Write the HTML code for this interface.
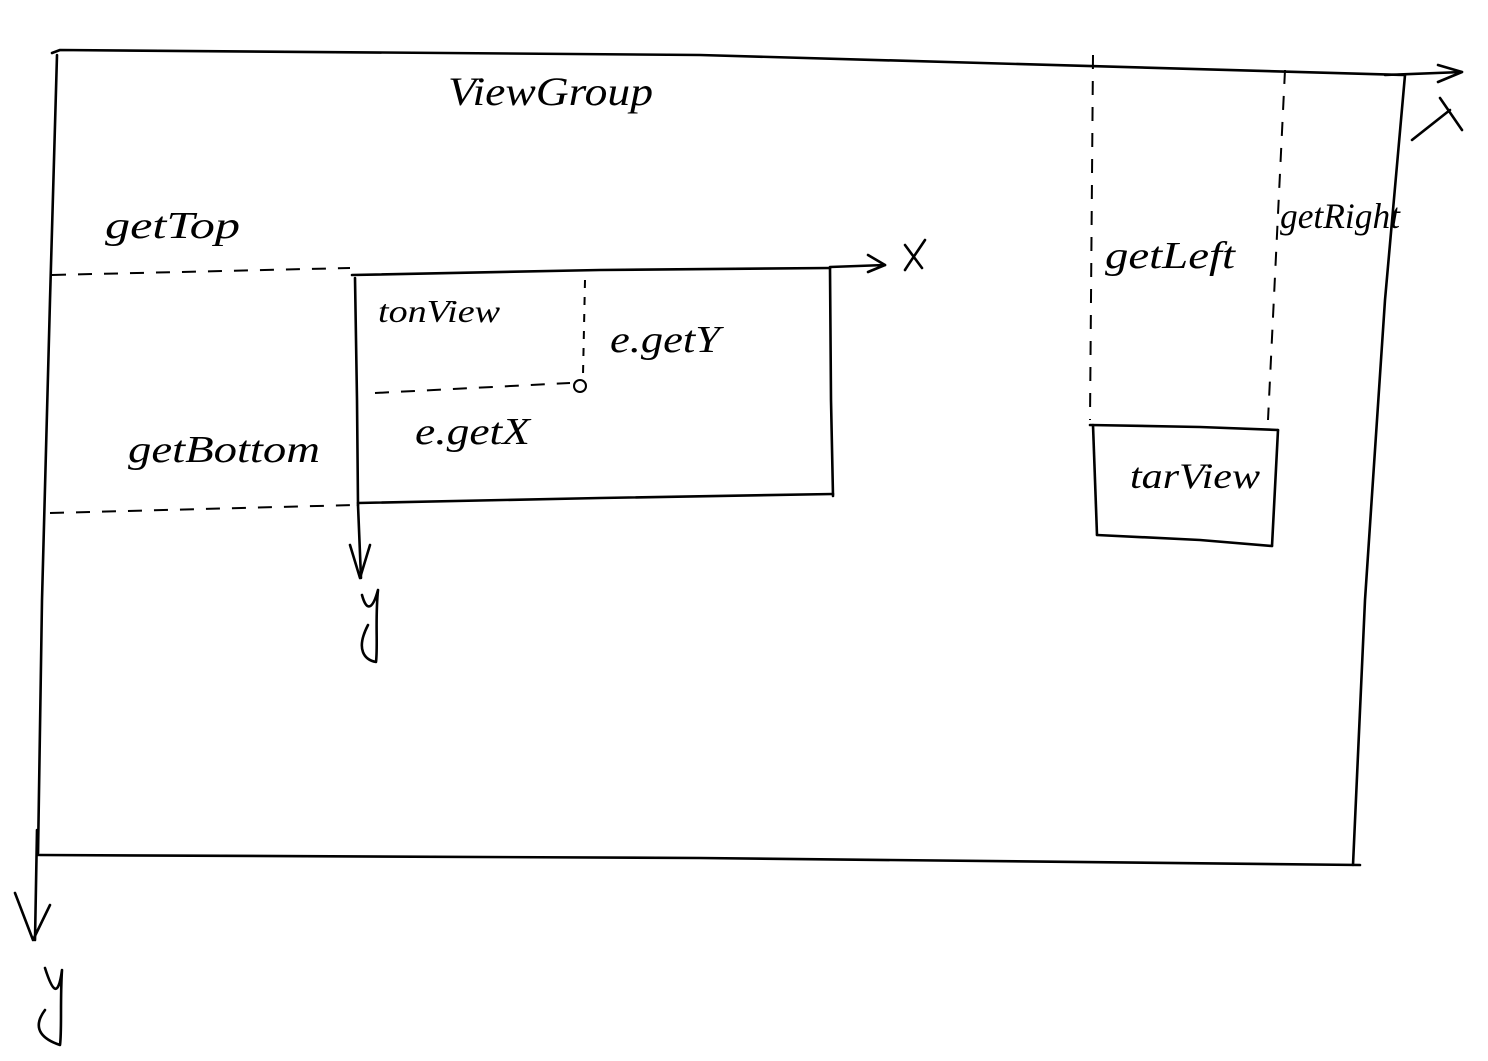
<!DOCTYPE html>
<html><head><meta charset="utf-8"><style>
html,body{margin:0;padding:0;background:#fff;}
svg{display:block}
text{font-family:"Liberation Serif",serif;font-style:italic;fill:#000;}
</style></head><body>
<svg width="1488" height="1061" viewBox="0 0 1488 1061" xmlns="http://www.w3.org/2000/svg">
<g stroke="#000" stroke-width="2.6" fill="none" stroke-linecap="round" stroke-linejoin="round">
<!-- outer rect -->
<path d="M52 53 L60 50 L700 55 L1405 75"/>
<path d="M57 55 L50 300 L42 600 L38 855"/>
<path d="M40 855 L700 858 L1360 865"/>
<path d="M1405 75 L1385 300 L1365 600 L1353 865"/>
<!-- top right x arrow -->
<path d="M1385 75 L1462 72"/>
<path d="M1438 65 L1462 72 L1438 82"/>
<path d="M1412 140 L1450 110"/>
<path d="M1440 98 L1462 130"/>
<!-- bottom left y arrow -->
<path d="M37 830 L35 940"/>
<path d="M15 893 L33 940 L50 905"/>
<path d="M45 968 C52 990 58 1000 62 970 M62 970 C60 1000 62 1030 60 1045 C45 1040 30 1030 45 1010"/>
<!-- inner rect -->
<path d="M352 275 L600 270 L830 268"/>
<path d="M355 278 L357 400 L358 505"/>
<path d="M358 503 L600 498 L833 494"/>
<path d="M830 268 L831 400 L833 496"/>
<path d="M830 267 L885 265"/>
<path d="M868 255 L885 265 L868 272"/>
<path d="M905 245 L922 268 M925 240 C915 255 910 262 905 270"/>
<path d="M358 505 L361 578"/>
<path d="M350 545 L360 578 L370 545"/>
<path d="M362 595 C366 610 372 612 378 590 M378 590 C375 620 378 645 376 662 C365 660 355 650 368 625"/>
<!-- tarView rect -->
<path d="M1090 425 L1200 427 L1278 430"/>
<path d="M1093 425 L1097 535"/>
<path d="M1097 535 L1200 540 L1272 546"/>
<path d="M1278 430 L1272 546"/>
<!-- circle -->
<circle cx="580" cy="386" r="6" stroke-width="2"/>
</g>
<g stroke="#000" stroke-width="2" fill="none" stroke-dasharray="14 12">
<path d="M52 275 L350 268"/>
<path d="M50 513 L355 505"/>
<path d="M375 393 L570 383"/>
<path d="M585 280 L583 375" stroke-dasharray="8 9"/>
<path d="M1093 55 L1090 420"/>
<path d="M1285 70 L1268 420"/>
</g>
<text x="448" y="105" font-size="40" textLength="205" lengthAdjust="spacingAndGlyphs">ViewGroup</text>
<text x="105" y="238" font-size="38" textLength="135" lengthAdjust="spacingAndGlyphs">getTop</text>
<text x="128" y="462" font-size="38" textLength="192" lengthAdjust="spacingAndGlyphs">getBottom</text>
<text x="378" y="322" font-size="32" textLength="122" lengthAdjust="spacingAndGlyphs">tonView</text>
<text x="610" y="352" font-size="38" textLength="110" lengthAdjust="spacingAndGlyphs">e.getY</text>
<text x="415" y="444" font-size="38" textLength="115" lengthAdjust="spacingAndGlyphs">e.getX</text>
<text x="1105" y="268" font-size="38" textLength="130" lengthAdjust="spacingAndGlyphs">getLeft</text>
<text x="1280" y="228" font-size="36" textLength="120" lengthAdjust="spacingAndGlyphs">getRight</text>
<text x="1130" y="488" font-size="36" textLength="130" lengthAdjust="spacingAndGlyphs">tarView</text>
</svg>
</body></html>
